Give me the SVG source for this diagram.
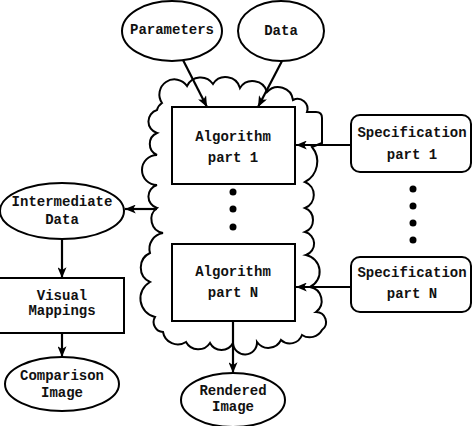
<svg xmlns="http://www.w3.org/2000/svg" width="474" height="426" viewBox="0 0 474 426">
<style>
.s{fill:#fff;stroke:#000;stroke-width:2}
.t{font-family:"Liberation Mono","DejaVu Sans Mono",monospace;font-weight:bold;font-size:14px;text-anchor:middle;fill:#111}
.c{stroke:#000;stroke-width:2.2;fill:none}
</style>
<defs>
<marker id="ah" viewBox="0 0 12 10" refX="12" refY="5" markerWidth="12" markerHeight="9" markerUnits="userSpaceOnUse" orient="auto">
<path d="M0,0 L12,5 L0,10 L3,5 Z" fill="#000"/>
</marker>
</defs>
<rect width="474" height="426" fill="#fff"/>
<g id="cloud">
<path class="s" d="M157,110 A12,12 0 0 1 162,103 A15,15 0 0 1 187,86 A15,15 0 0 1 213,84 A15,15 0 0 1 240,88 A15,15 0 0 1 267,92 A15,15 0 0 1 293,100 A10,10 0 0 1 307,112 L316,112 Q322,112 322,118 L322,143 L312,147 A23,23 0 0 1 305,182 A14,14 0 0 1 305,208 A13,13 0 0 1 305,232 A12,12 0 0 1 306,255 A17,17 0 0 1 310,287 A14,14 0 0 1 316,312 A10,10 0 0 1 322,330 A14,14 0 0 1 302,335 A13,13 0 0 1 281,340 A14,14 0 0 1 257,342 A12,12 0 0 1 233,343 A13,13 0 0 1 210,343 A14,14 0 0 1 186,342 A15,15 0 0 1 163,332 A10,10 0 0 1 155,317 A19,19 0 0 1 150,282 A16,16 0 0 1 150,253 A16,16 0 0 1 163,233 A14,14 0 0 1 157,208 A12,12 0 0 1 157,185 A15,15 0 0 1 157,155 A12,12 0 0 1 157,133 A12,12 0 0 1 157,110 Z"/>
</g>
<g id="connectors">
<line class="c" x1="183" y1="60" x2="207" y2="107" marker-end="url(#ah)"/>
<line class="c" x1="282" y1="61" x2="258" y2="107" marker-end="url(#ah)"/>
<line class="c" x1="351" y1="145" x2="296" y2="145" marker-end="url(#ah)"/>
<line class="c" x1="351" y1="287" x2="296" y2="287" marker-end="url(#ah)"/>
<line class="c" x1="157" y1="209" x2="125" y2="209" marker-end="url(#ah)"/>
<line class="c" x1="62" y1="239" x2="62" y2="278" marker-end="url(#ah)"/>
<line class="c" x1="62" y1="333" x2="62" y2="357" marker-end="url(#ah)"/>
<line class="c" x1="233" y1="321" x2="233" y2="373" marker-end="url(#ah)"/>
</g>
<g id="parameters">
<ellipse class="s" cx="172" cy="31" rx="50" ry="30"/>
<text class="t" x="172" y="34">Parameters</text>
</g>
<g id="data">
<ellipse class="s" cx="281" cy="31" rx="43" ry="30"/>
<text class="t" x="281" y="35">Data</text>
</g>
<g id="alg1">
<rect class="s" x="172" y="107" width="123" height="77"/>
<text class="t" x="233" y="141">Algorithm</text>
<text class="t" x="233" y="162">part 1</text>
</g>
<g id="dots">
<circle cx="233" cy="192" r="3.5"/>
<circle cx="233" cy="209" r="3.5"/>
<circle cx="233" cy="227" r="3.5"/>
</g>
<g id="algN">
<rect class="s" x="172" y="244" width="123" height="77"/>
<text class="t" x="233" y="276">Algorithm</text>
<text class="t" x="233" y="297">part N</text>
</g>
<g id="spec1">
<rect class="s" x="351" y="115" width="120" height="57" rx="9"/>
<text class="t" x="412" y="137">Specification</text>
<text class="t" x="412" y="159">part 1</text>
</g>
<g id="specdots">
<circle cx="413" cy="189" r="3.5"/>
<circle cx="413" cy="206" r="3.5"/>
<circle cx="413" cy="223" r="3.5"/>
<circle cx="413" cy="240" r="3.5"/>
</g>
<g id="specN">
<rect class="s" x="351" y="257" width="120" height="55" rx="9"/>
<text class="t" x="412" y="277">Specification</text>
<text class="t" x="412" y="298">part N</text>
</g>
<g id="intermediate">
<ellipse class="s" cx="62" cy="211" rx="62" ry="28"/>
<text class="t" x="62" y="206">Intermediate</text>
<text class="t" x="62" y="224">Data</text>
</g>
<g id="visual">
<rect class="s" x="-2" y="278" width="126" height="55"/>
<text class="t" x="62" y="300">Visual</text>
<text class="t" x="62" y="315">Mappings</text>
</g>
<g id="comparison">
<ellipse class="s" cx="62" cy="384" rx="57" ry="27"/>
<text class="t" x="62" y="380">Comparison</text>
<text class="t" x="62" y="397">Image</text>
</g>
<g id="rendered">
<ellipse class="s" cx="233" cy="400" rx="52" ry="27"/>
<text class="t" x="233" y="395">Rendered</text>
<text class="t" x="233" y="411">Image</text>
</g>
</svg>
